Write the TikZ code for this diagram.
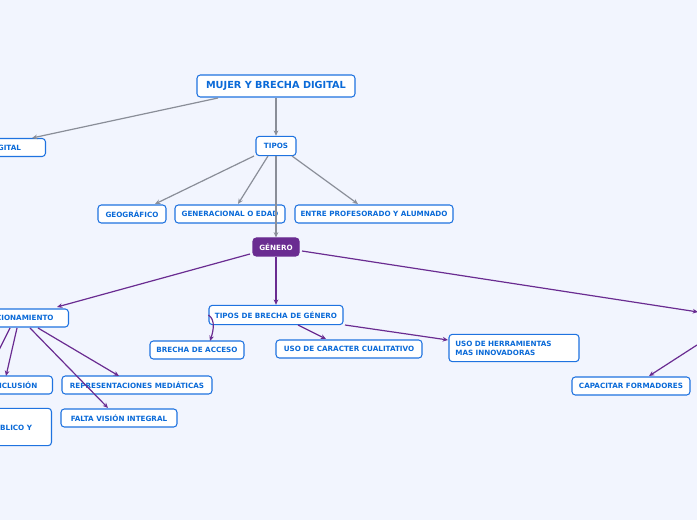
\documentclass[tikz,border=0pt]{standalone}
\usepackage{fontspec}
\setmainfont{DejaVu Sans}
\usetikzlibrary{arrows.meta}
\definecolor{bg}{HTML}{F2F5FE}
\definecolor{bl}{HTML}{1F73E0}
\definecolor{tx}{HTML}{0A6AD8}
\definecolor{pu}{HTML}{6A2C91}
\definecolor{gr}{HTML}{8A8E98}
\begin{document}
\begin{tikzpicture}[x=0.75pt,y=-0.75pt,
 box/.style={draw=bl,fill=white,rounded corners=2.5pt,line width=0.8pt,text=tx,font=\fontsize{5.4}{6.6}\selectfont\bfseries,inner sep=0pt,minimum height=13.5pt},
 gl/.style={draw=gr,line width=0.9pt,-{Stealth[length=4pt,width=3.5pt]}},
 pl/.style={draw=pu,line width=0.9pt,-{Stealth[length=4pt,width=3.5pt]}}]
\fill[bg] (0,0) rectangle (697,520);
\useasboundingbox (0,0) rectangle (697,520);
\node[box,minimum width=118.5pt,minimum height=16.5pt,font=\fontsize{7.3}{9}\selectfont\bfseries] (t) at (276,86) {MUJER Y BRECHA DIGITAL};
\node[box,minimum width=80pt,anchor=east,align=right] (bd) at (46,147.5) {BRECHA DIGITAL\hspace*{7pt}};
\node[box,minimum width=30pt,minimum height=14.5pt] (tipos) at (276,146) {TIPOS};
\node[box,minimum width=51pt] (geo) at (132,214) {GEOGRÁFICO};
\node[box,minimum width=82.5pt] (gen) at (230,214) {GENERACIONAL O EDAD};
\node[box,minimum width=118.5pt] (ent) at (374,214) {ENTRE PROFESORADO Y ALUMNADO};
\node[box,fill=pu,draw=pu,text=white,minimum width=34.5pt] (g) at (276,247) {GÉNERO};
\node[box,minimum width=80pt,anchor=east,align=right] (cond) at (69,318) {CONDICIONAMIENTO\hspace*{5pt}};
\node[box,minimum width=100.5pt,minimum height=14.5pt] (tb) at (276,315) {TIPOS DE BRECHA DE GÉNERO};
\node[box,minimum width=70.5pt] (acc) at (197,350) {BRECHA DE ACCESO};
\node[box,minimum width=109.5pt] (cua) at (349,349) {USO DE CARACTER CUALITATIVO};
\node[box,minimum width=97.5pt,minimum height=20.5pt,align=left,text width=88pt] (her) at (514,348) {USO DE HERRAMIENTAS\\MAS INNOVADORAS};
\node[box,minimum width=88.5pt] (cap) at (631,386) {CAPACITAR FORMADORES};
\node[box,minimum width=60pt,anchor=west] (off) at (698,312) {\phantom{X}};
\node[box,minimum width=80pt,anchor=east,align=right] (inc) at (53,385) {FALTA DE INCLUSIÓN\hspace*{5pt}};
\node[box,minimum width=112.5pt] (rep) at (137,385) {REPRESENTACIONES MEDIÁTICAS};
\node[box,minimum width=80pt,minimum height=28pt,anchor=east,align=right] (pub) at (52,427) {ESPACIO PÚBLICO Y\hspace*{9pt}};
\node[box,minimum width=87pt] (fvi) at (119,418) {FALTA VISIÓN INTEGRAL};
% grey
\draw[gl] (218,98) -- (32,138);
\draw[gl] (t.south) -- (tipos.north);
\draw[gl] (254,156) -- (155,204);
\draw[gl] (268,156) -- (238,204);
\draw[gl] (292,156) -- (358,204);
\draw[gl] (tipos.south) -- (g.north);
% purple
\draw[pl] (250,254) -- (57,307);
\draw[pl] (g.south) -- (tb.north);
\draw[pl] (302,251) -- (off.west);
\draw[pl] (697,345) -- (649,376);
\draw[pl] (tb.west) ..controls (216,320) and (213,332).. (210,341);
\draw[pl] (298,325) -- (326,339);
\draw[pl] (345,325) -- (448,340);
\draw[pl] (10,328) -- (-6,360);
\draw[pl] (17,328) -- (6,376);
\draw[pl] (30,328) -- (108,408);
\draw[pl] (38,328) -- (119,376);
\end{tikzpicture}
\end{document}
